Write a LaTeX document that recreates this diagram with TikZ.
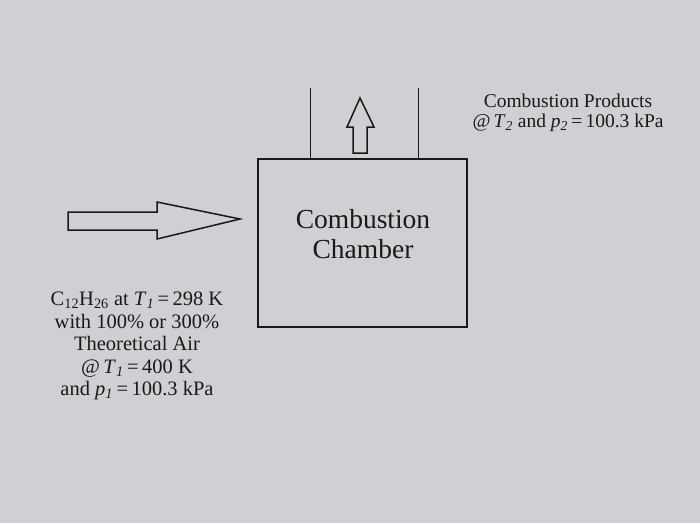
\documentclass[tikz,border=0pt]{standalone}
\usepackage{fontspec}
\setmainfont{Liberation Serif}
\usepackage{xcolor}
\definecolor{paper}{RGB}{208,207,211}
\definecolor{ink}{RGB}{25,25,25}
\tikzset{
  wall/.style={draw=ink, line width=1.6pt},
  duct/.style={draw=ink, line width=1pt},
  flowarrow/.style={draw=ink, line width=1.5pt, line join=miter},
  label/.style={text=ink, align=center, inner sep=0pt}
}
\newcommand{\tsub}[2]{\textit{#1}\textsubscript{\textit{#2}}}
\begin{document}
\begin{tikzpicture}[x=1pt, y=-1pt]
  \fill[paper] (0,0) rectangle (700,523);
  \useasboundingbox (0,0) rectangle (700,523);
  % chamber and exhaust duct
  \draw[wall] (258,159) rectangle (467,327);
  \node[label, font=\fontsize{27.5}{30}\selectfont] (chamber) at (363,234) {Combustion\\Chamber};
  \coordinate (ductL) at (310,159);
  \coordinate (ductR) at (418,159);
  \draw[duct] (ductL) -- ++(0,-71);
  \draw[duct] (ductR) -- ++(0,-71);
  % outflow arrow
  \draw[flowarrow] (353,153) -- (353,127) -- (347,127) -- (360,98) -- (374,127) -- (367,127) -- (367,153) -- cycle;
  % inflow arrow
  \draw[flowarrow] (68,212) -- (157,212) -- (157,202) -- (240,219) -- (157,239) -- (157,230) -- (68,230) -- cycle;
  % labels
  \node[label, font=\fontsize{19.5}{20}\selectfont] (products) at (568,113)
    {Combustion Products\\@\,\tsub{T}{2} and \tsub{p}{2}\,=\,100.3 kPa};
  \node[label, font=\fontsize{20.5}{22.5}\selectfont] (reactants) at (137,346)
    {C\textsubscript{12}H\textsubscript{26} at \tsub{T}{1}\,=\,298 K\\
     with 100\% or 300\%\\
     Theoretical Air\\
     @\,\tsub{T}{1}\,=\,400 K\\
     and \tsub{p}{1}\,=\,100.3 kPa};
\end{tikzpicture}
\end{document}
